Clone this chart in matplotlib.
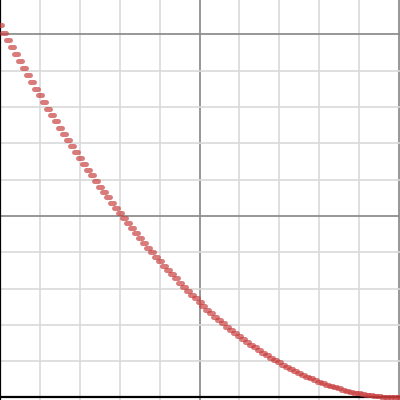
import matplotlib
matplotlib.use("Agg")
import matplotlib.pyplot as plt
from matplotlib.markers import MarkerStyle

x_values = [round(0.1 * i, 1) for i in range(101)]
y_values = [
    10.26, 10.05, 9.850, 9.650, 9.455, 9.260, 9.068, 8.878, 8.690, 8.504,
    8.320, 8.138, 7.958, 7.780, 7.604, 7.430, 7.258, 7.089, 6.923, 6.758,
    6.596, 6.435, 6.277, 6.120, 5.965, 5.812, 5.662, 5.512, 5.365, 5.220,
    5.077, 4.936, 4.796, 4.660, 4.524, 4.391, 4.259, 4.130, 4.002, 3.877,
    3.753, 3.631, 3.512, 3.394, 3.279, 3.165, 3.053, 2.943, 2.835, 2.729,
    2.625, 2.523, 2.424, 2.326, 2.230, 2.136, 2.044, 1.954, 1.866, 1.780,
    1.695, 1.613, 1.533, 1.455, 1.379, 1.305, 1.233, 1.163, 1.095, 1.029,
    0.965, 0.903, 0.843, 0.785, 0.729, 0.675, 0.623, 0.573, 0.525, 0.480,
    0.436, 0.394, 0.355, 0.317, 0.281, 0.248, 0.217, 0.187, 0.160, 0.135,
    0.112, 0.091, 0.072, 0.056, 0.041, 0.029, 0.019, 0.011, 0.005, 0.001,
    0.0,
]
major_ticks = [0, 5, 10]
minor_ticks = list(range(0, 11))

fig = plt.figure(figsize=(4, 4), dpi=100)
ax = fig.add_axes([0, 0, 1, 1])
ax.set_xlim(0.025, 10.025)
ax.set_ylim(-0.069, 10.95)

ax.set_xticks(major_ticks)
ax.set_yticks(major_ticks)
ax.set_xticks(minor_ticks, minor=True)
ax.set_yticks(minor_ticks, minor=True)
ax.tick_params(which="both", length=0, labelbottom=False, labelleft=False)
ax.grid(which="minor", color="#d9d9d9", lw=1.2)
ax.grid(which="major", color="#8f8f8f", lw=1.3)
ax.set_axisbelow(True)

for s in ["top", "right", "bottom"]:
    ax.spines[s].set_visible(False)
ax.spines["left"].set_color("black")
ax.spines["left"].set_linewidth(1.6)
ax.axhline(0, color="black", lw=1.6, zorder=1.5)

ax.plot(x_values, y_values, linestyle="none",
        marker=MarkerStyle("_", capstyle="round"),
        ms=3.0, mew=3.6, color="#c83c3c", alpha=0.68, zorder=3)

fig.savefig("out.png", dpi=100)
